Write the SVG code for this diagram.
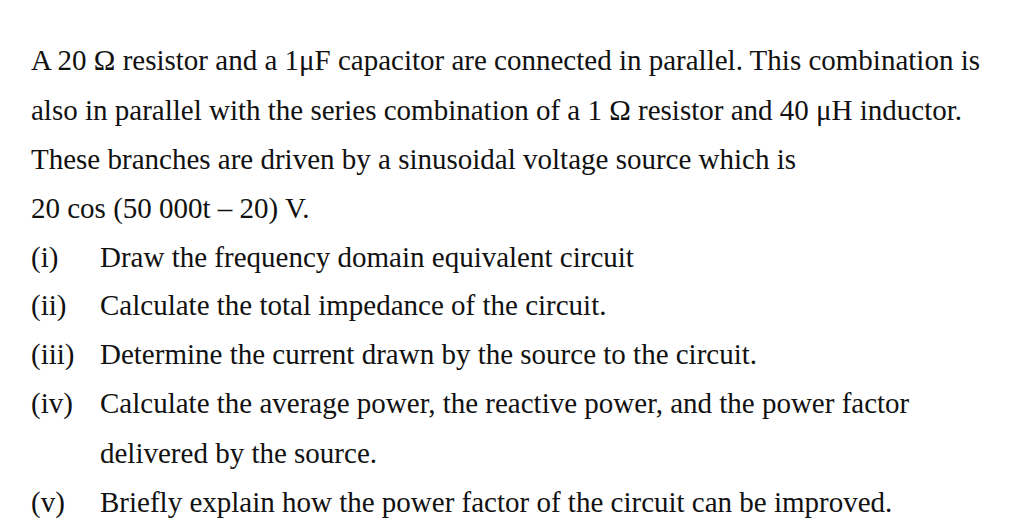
<svg xmlns="http://www.w3.org/2000/svg" width="1024" height="532" viewBox="0 0 1024 532">
<style>text{font-family:"Liberation Serif","Times New Roman",serif;font-size:29px;fill:#111}</style>
<rect width="1024" height="532" fill="#fff"/>
<g id="text">
<text x="31" y="70">A 20 Ω resistor and a 1μF capacitor are connected in parallel. This combination is</text>
<text x="31" y="120">also in parallel with the series combination of a 1 Ω resistor and 40 μH inductor.</text>
<text x="31" y="169">These branches are driven by a sinusoidal voltage source which is</text>
<text x="31" y="218">20 cos (50 000t – 20) V.</text>
<text x="31" y="267">(i)</text><text x="100" y="267">Draw the frequency domain equivalent circuit</text>
<text x="31" y="315">(ii)</text><text x="100" y="315">Calculate the total impedance of the circuit.</text>
<text x="31" y="364">(iii)</text><text x="100" y="364">Determine the current drawn by the source to the circuit.</text>
<text x="31" y="413">(iv)</text><text x="100" y="413">Calculate the average power, the reactive power, and the power factor</text>
<text x="100" y="463">delivered by the source.</text>
<text x="31" y="512">(v)</text><text x="100" y="512">Briefly explain how the power factor of the circuit can be improved.</text>
</g>
</svg>
